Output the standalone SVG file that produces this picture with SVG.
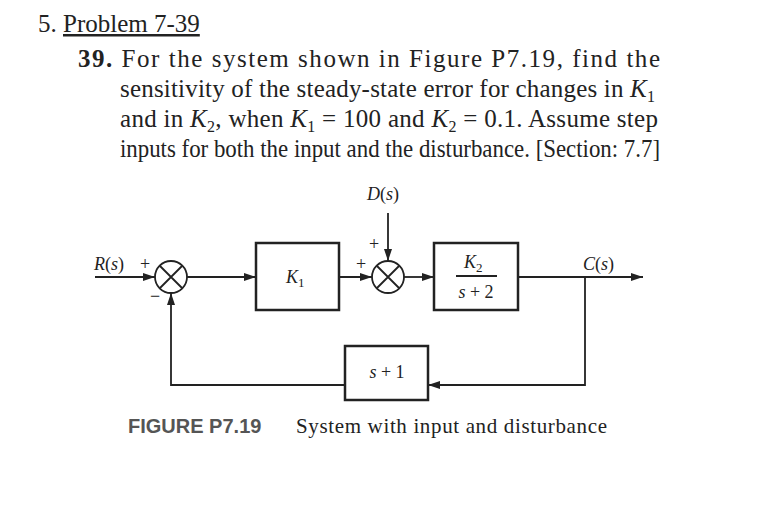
<svg xmlns="http://www.w3.org/2000/svg" width="757" height="515" viewBox="0 0 757 515">
<defs>
<style>
.t{font-family:"Liberation Serif",serif;font-size:25px;fill:#222}
.d{font-family:"Liberation Serif",serif;font-size:18px;fill:#222}
.i{font-style:italic}
.b{fill:#fff;stroke:#222;stroke-width:2.5}
.l{fill:none;stroke:#222;stroke-width:1.8}
</style>
<marker id="a" markerWidth="12" markerHeight="8" refX="12" refY="4" orient="auto" markerUnits="userSpaceOnUse"><path d="M0,0L12,4L0,8z" fill="#222"/></marker>
</defs>
<rect width="757" height="515" fill="#fff"/>
<text class="t" x="38" y="32">5. <tspan text-decoration="underline">Problem 7-39</tspan></text>
<text class="t" x="78" y="67" textLength="582" lengthAdjust="spacing"><tspan font-weight="bold">39.</tspan> For the system shown in Figure P7.19, find the</text>
<text class="t" x="120" y="97" textLength="535" lengthAdjust="spacing">sensitivity of the steady-state error for changes in <tspan class="i">K</tspan><tspan font-size="16" dy="5">1</tspan></text>
<text class="t" x="120" y="127" textLength="538" lengthAdjust="spacing">and in <tspan class="i">K</tspan><tspan font-size="16" dy="5">2</tspan><tspan dy="-5">, when </tspan><tspan class="i">K</tspan><tspan font-size="16" dy="5">1</tspan><tspan dy="-5"> = 100 and </tspan><tspan class="i">K</tspan><tspan font-size="16" dy="5">2</tspan><tspan dy="-5"> = 0.1. Assume step</tspan></text>
<text class="t" x="120" y="157" textLength="540" lengthAdjust="spacingAndGlyphs">inputs for both the input and the disturbance. [Section: 7.7]</text>
<g id="connectors">
<line class="l" x1="95" y1="277" x2="155" y2="277" marker-end="url(#a)"/>
<line class="l" x1="187" y1="277" x2="256" y2="277" marker-end="url(#a)"/>
<line class="l" x1="339" y1="277" x2="372" y2="277" marker-end="url(#a)"/>
<line class="l" x1="388" y1="213" x2="388" y2="261" marker-end="url(#a)"/>
<line class="l" x1="404" y1="277" x2="434" y2="277" marker-end="url(#a)"/>
<line class="l" x1="518" y1="277" x2="643" y2="277" marker-end="url(#a)"/>
<polyline class="l" points="585,277 585,385 428,385" marker-end="url(#a)"/>
<polyline class="l" points="345,385 171,385 171,293" marker-end="url(#a)"/>
</g>
<g id="sum1"><circle class="l" cx="171" cy="277" r="16"/><path class="l" d="M160,266L182,288M182,266L160,288"/></g>
<g id="k1"><rect class="b" x="256" y="243" width="83" height="67"/><text class="d i" x="286" y="283">K<tspan font-size="13" font-style="normal" dy="4">1</tspan></text></g>
<g id="sum2"><circle class="l" cx="388" cy="277" r="16"/><path class="l" d="M377,266L399,288M399,266L377,288"/></g>
<g id="k2"><rect class="b" x="434" y="243" width="84" height="67"/><text class="d i" x="464" y="268">K<tspan font-size="13" font-style="normal" dy="4">2</tspan></text><line class="l" x1="456" y1="276" x2="497" y2="276" stroke-width="1.2"/><text class="d" x="476" y="298" text-anchor="middle"><tspan class="i">s</tspan> + 2</text></g>
<g id="fb"><rect class="b" x="345" y="346" width="83" height="54"/><text class="d" x="387" y="378" text-anchor="middle"><tspan class="i">s</tspan> + 1</text></g>
<g id="labels">
<text class="d" x="94" y="270"><tspan class="i">R</tspan>(<tspan class="i">s</tspan>)</text>
<text class="d" x="140" y="270">+</text>
<text class="d" x="150" y="302">−</text>
<text class="d" x="356" y="270">+</text>
<text class="d" x="369" y="250">+</text>
<text class="d" x="367" y="200"><tspan class="i">D</tspan>(<tspan class="i">s</tspan>)</text>
<text class="d" x="583" y="270"><tspan class="i">C</tspan>(<tspan class="i">s</tspan>)</text>
</g>
<text x="128" y="433" font-family="Liberation Sans,sans-serif" font-size="20" font-weight="bold" fill="#555">FIGURE P7.19</text>
<text x="296" y="433" font-family="Liberation Serif,serif" font-size="21" fill="#222" textLength="311">System with input and disturbance</text>
</svg>
